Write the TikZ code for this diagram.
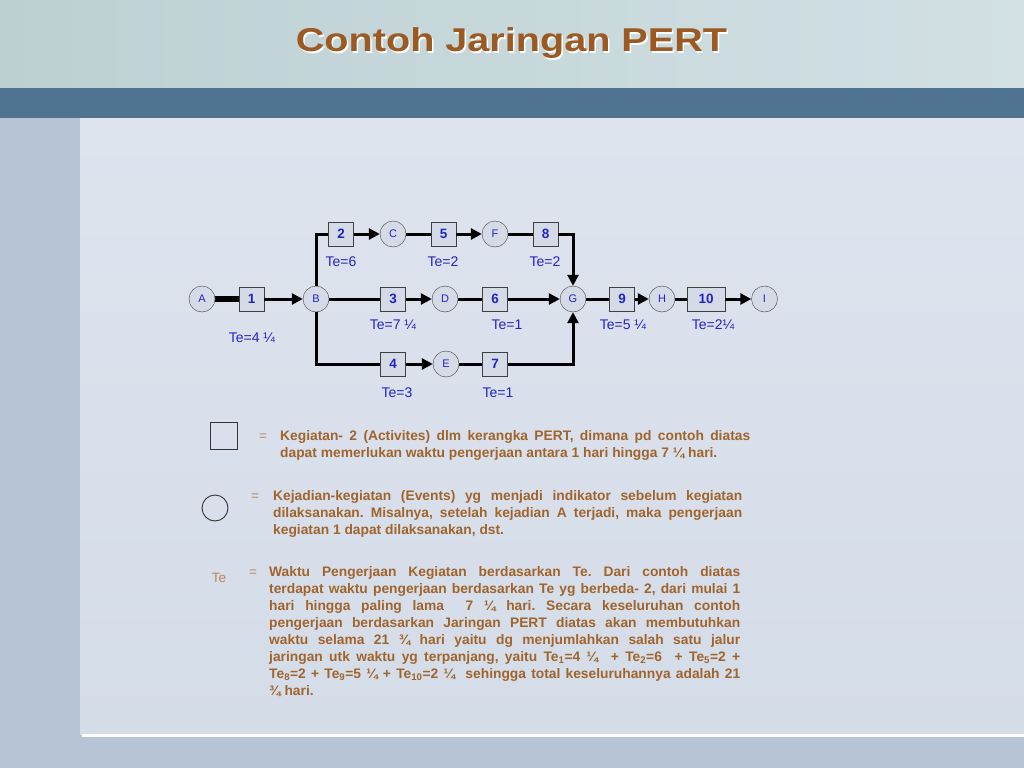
\documentclass[tikz,border=0pt]{standalone}
\usepackage{fontspec}
\setmainfont{Liberation Sans}
\usetikzlibrary{arrows.meta}

\definecolor{biruteks}{RGB}{35,35,200}
\definecolor{coklat}{RGB}{160,100,45}
\definecolor{coklatmuda}{RGB}{185,135,90}
\definecolor{judul}{RGB}{155,90,35}
\definecolor{pita}{RGB}{80,115,145}
\definecolor{sisi}{RGB}{182,196,214}
\definecolor{kepalaa}{RGB}{188,208,210}
\definecolor{kepalab}{RGB}{210,224,228}
\definecolor{panela}{RGB}{222,228,238}
\definecolor{panelb}{RGB}{212,220,232}
\definecolor{isian}{RGB}{212,219,230}

\newcommand{\tanpapenggal}{\hyphenpenalty=10000 \exhyphenpenalty=10000 \frenchspacing}

\tikzset{
        kegiatan/.style={draw=black!75,fill=isian,minimum width=25pt,minimum height=24pt,inner sep=0pt,text=biruteks,font=\bfseries\fontsize{13.5}{13.5}\selectfont},
        kejadian/.style={circle,draw=black!75,fill=isian,minimum size=26pt,inner sep=0pt,text=biruteks,font=\fontsize{11}{11}\selectfont},
        waktu/.style={text=biruteks,font=\fontsize{14}{14}\selectfont},
        garis/.style={line width=3pt},
        panah/.style={line width=3pt,-{Triangle[length=11pt,width=11pt]}},
        samadengan/.style={text=coklatmuda,font=\fontsize{13.5}{13.5}\selectfont},
        uraian/.style={anchor=north west,inner sep=0pt,align=justify,text=coklat,
                font=\bfseries\fontsize{13.8}{17}\selectfont}
}

\begin{document}
\begin{tikzpicture}[x=1pt,y=-1pt]
        % latar
        \fill[sisi] (0,0) rectangle (1024,768);
        \shade[left color=kepalaa,right color=kepalab] (0,0) rectangle (1024,88);
        \fill[pita] (0,88) rectangle (1024,118);
        \shade[top color=panela,bottom color=panelb] (80,118) rectangle (1024,734);
        \fill[white] (82,734) rectangle (1024,737);

        \node[text=white,anchor=base,xscale=1.2,font=\bfseries\fontsize{33}{33}\selectfont] at (513,53.5) {Contoh Jaringan PERT};
        \node[text=judul,anchor=base,xscale=1.2,font=\bfseries\fontsize{33}{33}\selectfont] (judul) at (511.5,52) {Contoh Jaringan PERT};

        % jaringan
        \node[kejadian] (A) at (202,299) {A};
        \node[kegiatan] (k1) at (251.5,299) {1};
        \node[kejadian] (B) at (316,299) {B};
        \node[kegiatan] (k2) at (341,234) {2};
        \node[kejadian] (C) at (393,234) {C};
        \node[kegiatan] (k5) at (443.5,234) {5};
        \node[kejadian] (F) at (495,234) {F};
        \node[kegiatan] (k8) at (545.5,234) {8};
        \node[kegiatan] (k3) at (393,299) {3};
        \node[kejadian] (D) at (445,299) {D};
        \node[kegiatan] (k6) at (495,299) {6};
        \node[kegiatan] (k4) at (393,364) {4};
        \node[kejadian] (E) at (446,364) {E};
        \node[kegiatan] (k7) at (495,364) {7};
        \node[kejadian] (G) at (573,299) {G};
        \node[kegiatan] (k9) at (622,299) {9};
        \node[kejadian] (H) at (662,299) {H};
        \node[kegiatan,minimum width=38pt] (k10) at (706,299) {10};
        \node[kejadian] (I) at (764.5,299) {I};

        \draw[line width=6pt] (A) -- (k1);
        \draw[panah] (k1) -- (B);
        \draw[garis] (B.north) |- (k2.west);
        \draw[panah] (k2) -- (C);
        \draw[garis] (C) -- (k5);
        \draw[panah] (k5) -- (F);
        \draw[garis] (F) -- (k8);
        \draw[panah] (k8.east) -| (G.north);
        \draw[garis] (B) -- (k3);
        \draw[panah] (k3) -- (D);
        \draw[garis] (D) -- (k6);
        \draw[panah] (k6) -- (G);
        \draw[garis] (B.south) |- (k4.west);
        \draw[panah] (k4) -- (E);
        \draw[garis] (E) -- (k7);
        \draw[panah] (k7.east) -| (G.south);
        \draw[garis] (G) -- (k9);
        \draw[panah] (k9) -- (H);
        \draw[garis] (H) -- (k10);
        \draw[panah] (k10) -- (I);

        \node[waktu] (te1) at (252,338) {Te=4 ¼};
        \node[waktu] (te2) at (341,262) {Te=6};
        \node[waktu] (te5) at (443,262) {Te=2};
        \node[waktu] (te8) at (545,262) {Te=2};
        \node[waktu] (te3) at (393,325) {Te=7 ¼};
        \node[waktu] (te6) at (507,325) {Te=1};
        \node[waktu] (te4) at (397,393) {Te=3};
        \node[waktu] (te7) at (498,393) {Te=1};
        \node[waktu] (te9) at (623,325) {Te=5 ¼};
        \node[waktu] (te10) at (713,325) {Te=2¼};

        % keterangan
        \node[draw=black!80,line width=0.9pt,minimum size=26.5pt,inner sep=0pt] (lkotak) at (224,436) {};
        \node[circle,draw=black!80,line width=0.9pt,minimum size=26pt,inner sep=0pt] (llingkaran) at (215,508) {};
        \node[samadengan] (lte) at (219,578) {Te};
        \node[samadengan] (s1) at (263,437) {=};
        \node[samadengan] (s2) at (255,497) {=};
        \node[samadengan] (s3) at (253,573) {=};
        \node[uraian,text width=470pt] (u1) at (280,430) {\tanpapenggal Kegiatan- 2 (Activites) dlm kerangka PERT, dimana pd contoh diatas\linebreak
                dapat memerlukan waktu pengerjaan antara 1 hari hingga 7 ¼ hari.};
        \node[uraian,text width=469pt] (u2) at (273,490) {\tanpapenggal Kejadian-kegiatan (Events) yg menjadi indikator sebelum kegiatan\linebreak
                dilaksanakan. Misalnya, setelah kejadian A terjadi, maka pengerjaan\linebreak
                kegiatan 1 dapat dilaksanakan, dst.};
        \node[uraian,text width=471pt] (u3) at (269,566) {\tanpapenggal Waktu Pengerjaan Kegiatan berdasarkan Te. Dari contoh diatas\linebreak
                terdapat waktu pengerjaan berdasarkan Te yg berbeda- 2, dari mulai 1\linebreak
                hari hingga paling lama~~7 ¼ hari. Secara keseluruhan contoh\linebreak
                pengerjaan berdasarkan Jaringan PERT diatas akan membutuhkan\linebreak
                waktu selama 21 ¾ hari yaitu dg menjumlahkan salah satu jalur\linebreak
                jaringan utk waktu yg terpanjang, yaitu Te\textsubscript{1}=4 ¼~~+ Te\textsubscript{2}=6~~+ Te\textsubscript{5}=2 +\linebreak
                Te\textsubscript{8}=2 + Te\textsubscript{9}=5 ¼ + Te\textsubscript{10}=2 ¼~~sehingga total keseluruhannya adalah 21\linebreak
                ¾ hari.};
\end{tikzpicture}
\end{document}
